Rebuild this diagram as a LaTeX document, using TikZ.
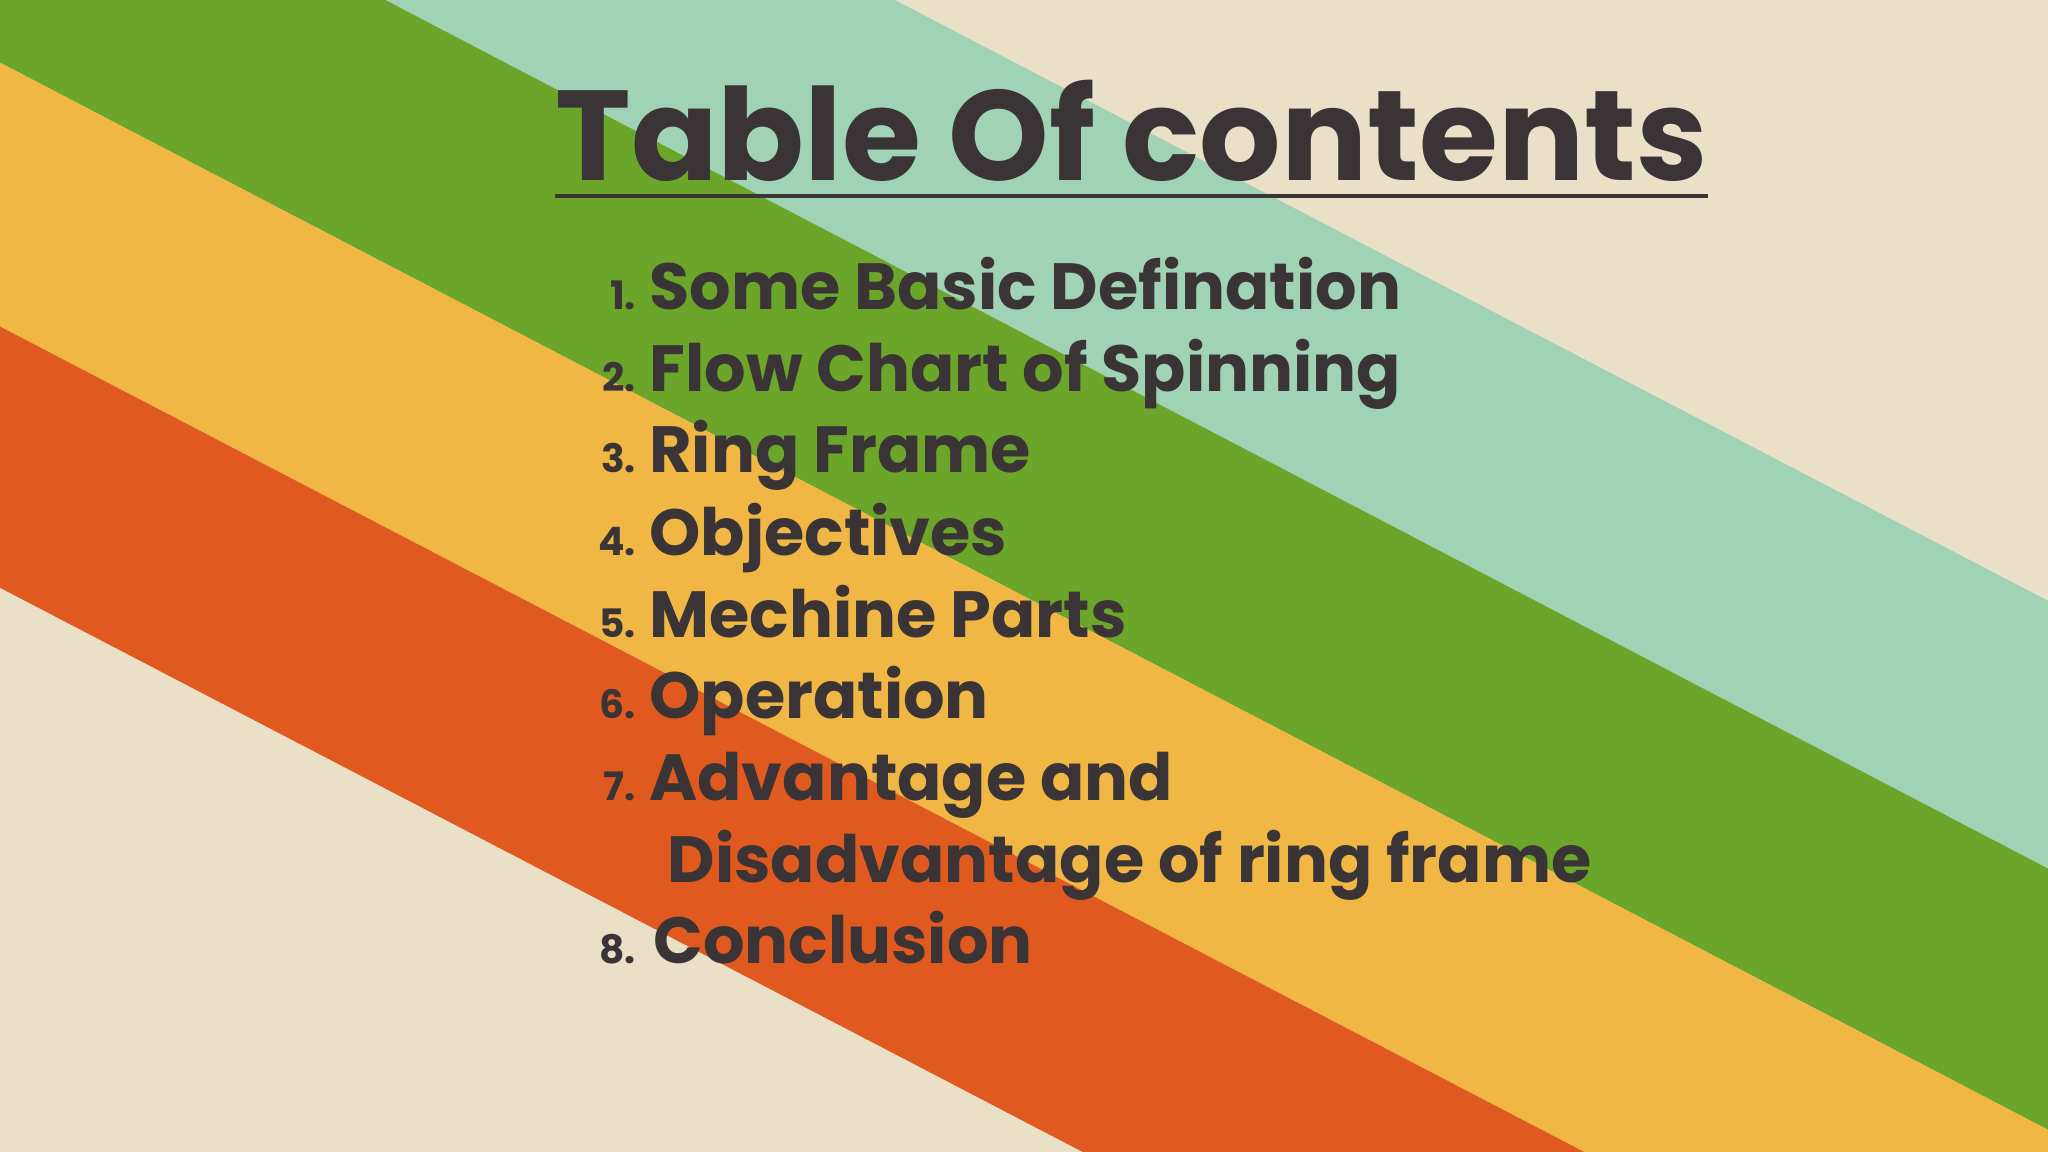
\documentclass[tikz,border=0pt]{standalone}
\usepackage{fontspec}
\setmainfont{Poppins}
\definecolor{cream}{HTML}{EAE0C8}
\definecolor{mint}{HTML}{A0D2B6}
\definecolor{grn}{HTML}{6BA52A}
\definecolor{yel}{HTML}{F0B745}
\definecolor{org}{HTML}{E05A20}
\definecolor{ink}{HTML}{3A3436}
\begin{document}
\begin{tikzpicture}[x=1pt,y=-1pt,
  item/.style={anchor=base west,inner sep=0pt,text=ink,font=\fontsize{50}{50}\selectfont\bfseries},
  num/.style={anchor=base east,inner sep=0pt,text=ink,font=\fontsize{30}{30}\selectfont\bfseries}]
\useasboundingbox (0,0) rectangle (1568,882);
\fill[cream] (0,0) rectangle (1568,882);
\fill[mint] (295,0) -- (685,0) -- (1568,460) -- (1568,665) -- cycle;
\fill[grn] (0,0) -- (295,0) -- (1568,665) -- (1568,865) -- (0,48) -- cycle;
\fill[yel] (0,48) -- (1568,865) -- (1568,882) -- (1213,882) -- (0,250) -- cycle;
\fill[org] (0,250) -- (1213,882) -- (829,882) -- (0,450) -- cycle;
\node[anchor=base west,inner sep=0pt,text=ink,font=\fontsize{98}{98}\selectfont\bfseries] (title) at (425,138) {Table Of contents};
\draw[ink,line width=3.5pt] (title.base west) ++(0,12) coordinate (u1) -- (u1 -| title.east);
\foreach \n/\t/\y in {1/Some Basic Defination/237,2/Flow Chart of Spinning/300,3/Ring Frame/362,4/Objectives/425,5/Mechine Parts/488,6/Operation/550,7/Advantage and/613}{
  \node[num] (n\n) at (487,\y) {\n.};
  \node[item] (i\n) at (497,\y) {\t};
}
\node[item] (i7b) at (511,676) {Disadvantage of ring frame};
\node[num] (n8) at (487,738) {8.};
\node[item] (i8) at (500,738) {Conclusion};
\end{tikzpicture}
\end{document}
